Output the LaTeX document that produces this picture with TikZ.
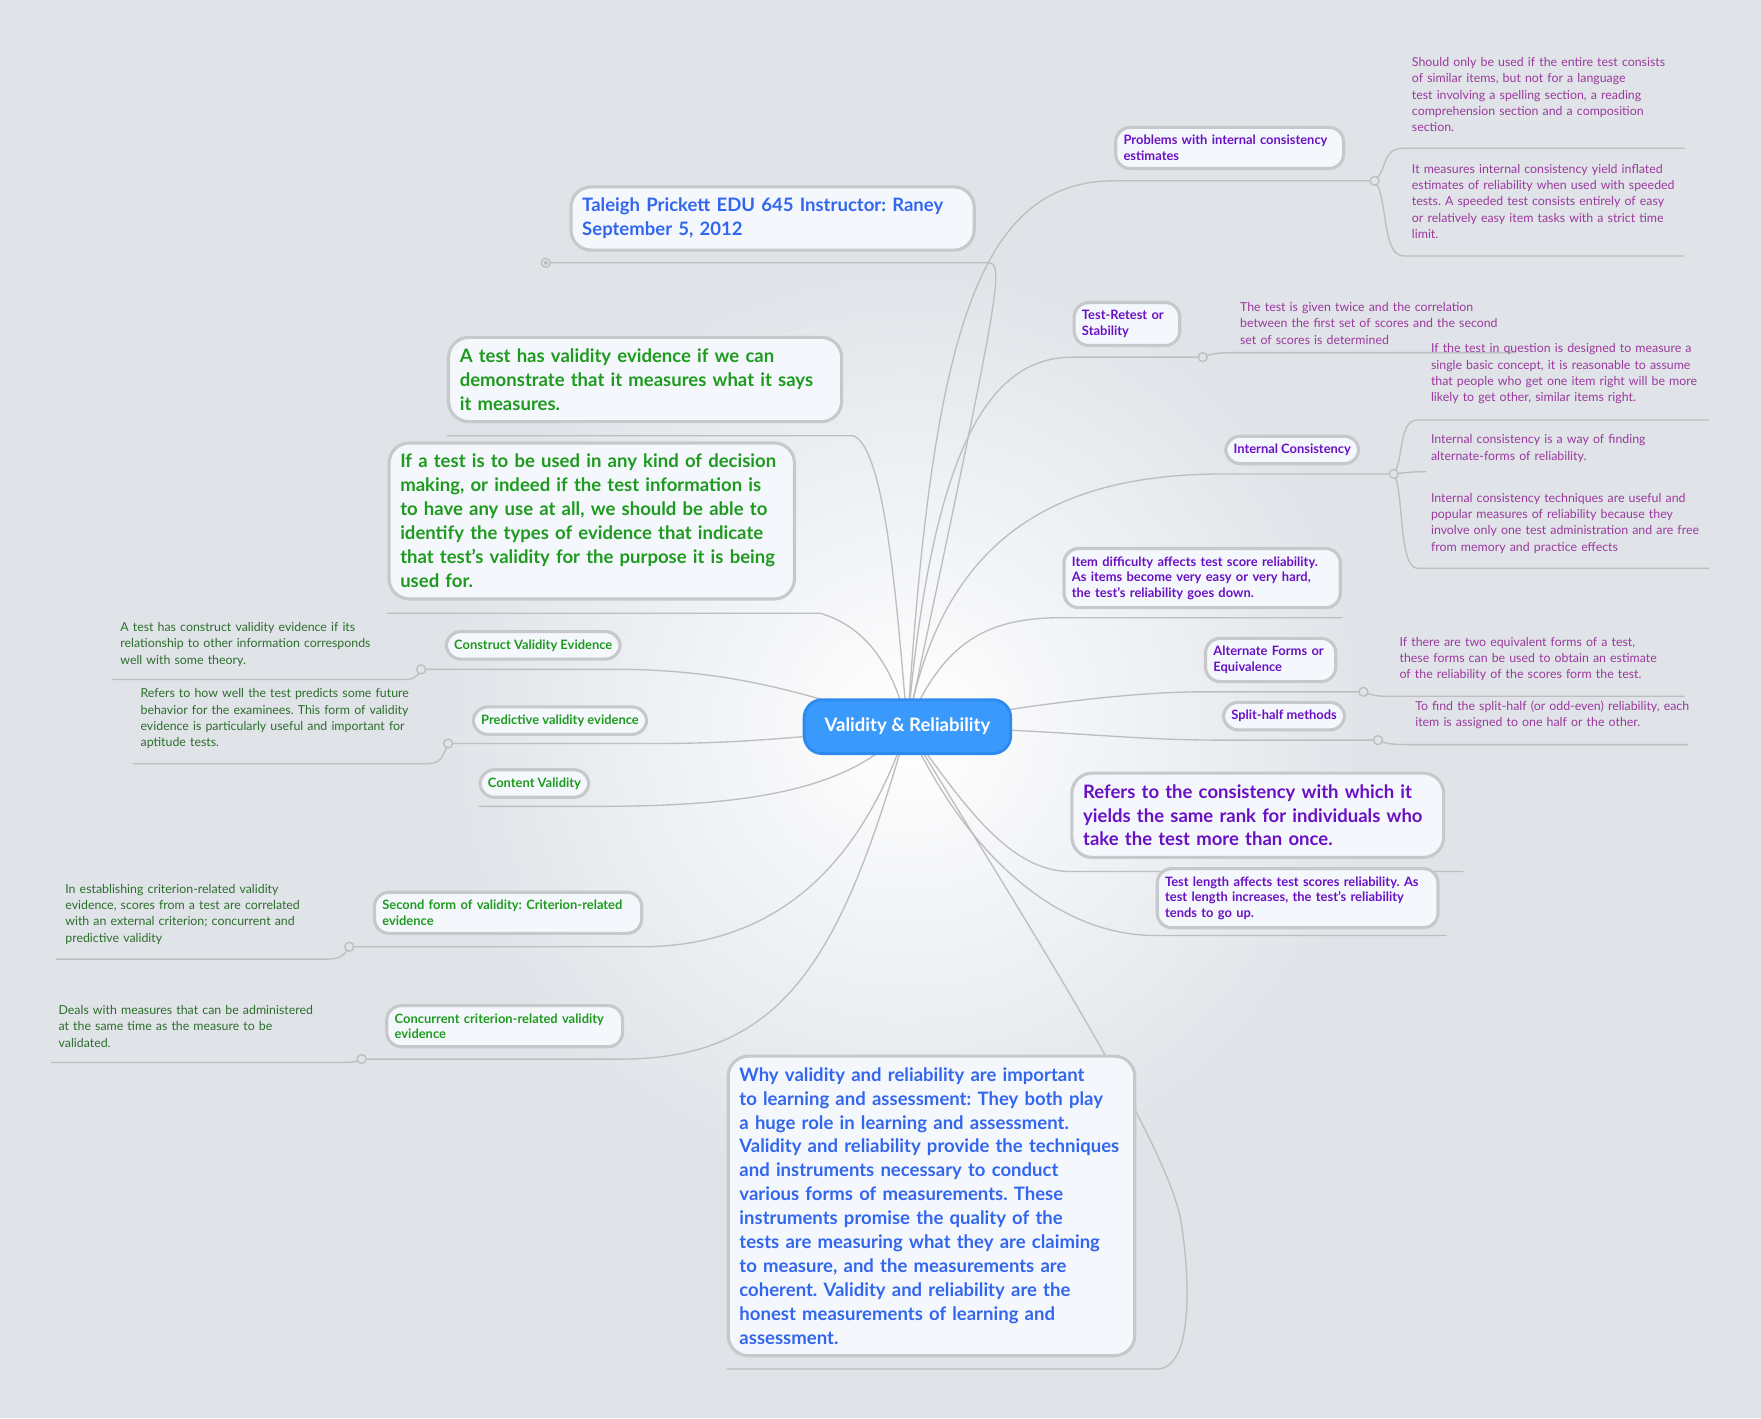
\documentclass[tikz,border=0pt]{standalone}
\usepackage{fontspec}
\setmainfont{Lato}
\hyphenpenalty=10000
\exhyphenpenalty=10000
\frenchspacing
\begin{document}
\begin{tikzpicture}[x=1pt,y=-1pt,
 box/.style={draw=bordc,line width=2.8pt,fill=boxf,rounded corners=13pt,inner sep=7pt,anchor=north west,align=left,font=\fontsize{11.5}{14}\selectfont\bfseries},
 big/.style={box,inner sep=10pt,rounded corners=18pt,font=\fontsize{16.5}{21.3}\selectfont\bfseries},
 leaf/.style={anchor=north west,inner sep=0pt,align=left,font=\fontsize{11}{14.5}\selectfont},
 conn/.style={draw=connc,line width=1.2pt},
 dot/.style={circle,draw=connc,line width=1.2pt,fill=bgc,inner sep=0pt,minimum size=8pt}]
\definecolor{bgc}{HTML}{E0E3E8}
\definecolor{boxf}{HTML}{F4F8FD}
\definecolor{bordc}{HTML}{C6C8CB}
\definecolor{connc}{HTML}{BDBEC0}
\definecolor{grn}{HTML}{1E9A1E}
\definecolor{dgrn}{HTML}{2C6E2C}
\definecolor{pur}{HTML}{6A10C4}
\definecolor{lpur}{HTML}{9A3A9E}
\definecolor{blu}{HTML}{3366EE}
\definecolor{cfill}{HTML}{3A9AFC}
\definecolor{cbord}{HTML}{2E8AF0}
\fill[bgc] (0,0) rectangle (1568,1263);
\useasboundingbox (0,0) rectangle (1568,1263);
\begin{scope}
\clip (0,0) rectangle (1568,1263);
\shade[inner color=white,outer color=bgc,draw=none] (808,647) circle (420);
\end{scope}
\coordinate (C) at (808,647);
% ---- connectors
\draw[conn] (486,234) -- (880,234) .. controls (895,234) and (890,260) .. (C);
\draw[conn] (398,388) -- (760,388) .. controls (790,400) and (800,560) .. (C);
\draw[conn] (345,546) -- (730,546) .. controls (780,560) and (800,610) .. (C);
\draw[conn] (375,596) -- (561,596) .. controls (640,598) and (700,610) .. (C);
\draw[conn] (399,662) -- (584,662) .. controls (650,662) and (700,658) .. (C);
\draw[conn] (426,718) -- (531,718) .. controls (680,718) and (760,700) .. (C);
\draw[conn] (311,843) -- (570,843) .. controls (700,843) and (770,760) .. (C);
\draw[conn] (322,943) -- (553,943) .. controls (700,943) and (750,850) .. (C);
\draw[conn] (647,1219) -- (1030,1219) .. controls (1070,1219) and (1055,1100) .. (1050,1080) .. controls (1030,1000) and (900,800) .. (C);
\draw[conn] (375,596) .. controls (370,605) and (368,605) .. (355,605) -- (100,605);
\draw[conn] (399,662) .. controls (392,680) and (390,680) .. (375,680) -- (118,680);
\draw[conn] (311,843) .. controls (305,854) and (300,854) .. (285,854) -- (50,854);
\draw[conn] (322,943) .. controls (318,946) and (310,946) .. (300,946) -- (45,946);
\draw[conn] (C) .. controls (830,300) and (870,161) .. (992,161) -- (1224,161);
\draw[conn] (C) .. controls (830,400) and (880,318) .. (955,318) -- (1071,318);
\draw[conn] (C) .. controls (840,470) and (950,422) .. (1090,422) -- (1241,422);
\draw[conn] (C) .. controls (840,570) and (880,550) .. (946,550) -- (1195,550);
\draw[conn] (C) .. controls (900,630) and (1000,616) .. (1072,616) -- (1214,616);
\draw[conn] (C) .. controls (950,650) and (1000,659) .. (1088,659) -- (1227,659);
\draw[conn] (C) .. controls (860,720) and (900,776) .. (953,776) -- (1303,776);
\draw[conn] (C) .. controls (860,760) and (940,833) .. (1029,833) -- (1288,833);
\draw[conn] (1224,161) .. controls (1236,150) and (1230,132) .. (1250,132) -- (1500,132);
\draw[conn] (1224,161) .. controls (1236,175) and (1230,228) .. (1250,228) -- (1500,228);
\draw[conn] (1071,318) .. controls (1080,314) and (1090,314) .. (1100,314) -- (1350,314);
\draw[conn] (1241,422) .. controls (1250,410) and (1245,374) .. (1262,374) -- (1522,374);
\draw[conn] (1241,422) .. controls (1250,421) and (1255,420) .. (1270,420);
\draw[conn] (1241,422) .. controls (1250,435) and (1245,506) .. (1262,506) -- (1522,506);
\draw[conn] (1214,616) .. controls (1222,620) and (1230,620) .. (1240,620) -- (1500,620);
\draw[conn] (1227,659) .. controls (1235,663) and (1245,663) .. (1255,663) -- (1503,663);
\foreach \p in {(486,234),(375,596),(399,662),(311,843),(322,943),(1224,161),(1071,318),(1241,422),(1214,616),(1227,659)}
  \node[dot] at \p {};
\fill[connc] (486,234) circle (1.8);
% ---- nodes
\node[draw=cbord,line width=2.5pt,rounded corners=16pt,minimum width=184pt,minimum height=48pt,fill=cfill,text=white,font=\fontsize{16.5}{20}\selectfont\bfseries] (cn) at (808,647) {Validity \& Reliability};
\node[big,text=blu,text width=339pt] (t) at (507,165) {Taleigh Prickett EDU 645 Instructor: Raney\\September 5, 2012};
\node[big,text=grn,text width=330pt] (a) at (398,299) {A test has validity evidence if we can demonstrate that it measures what it says it measures.};
\node[big,text=grn,text width=341pt] (b) at (345,393) {If a test is to be used in any kind of decision making, or indeed if the test information is to have any use at all, we should be able to identify the types of evidence that indicate that test’s validity for the purpose it is being used for.};
\node[box,text=grn] (cv) at (396,561) {Construct Validity Evidence};
\node[box,text=grn] (pv) at (420,628) {Predictive validity evidence};
\node[box,text=grn] (cnt) at (426,684) {Content Validity};
\node[box,text=grn,text width=224pt] (sf) at (332,793) {Second form of validity: Criterion-related evidence};
\node[box,text=grn,text width=196pt] (cc) at (343,894) {Concurrent criterion-related validity evidence};
\node[big,text=blu,text width=342pt] (why) at (647,939) {Why validity and reliability are important to learning and assessment: They both play a huge role in learning and assessment. Validity and reliability provide the techniques and instruments necessary to conduct various forms of measurements. These instruments promise the quality of the tests are measuring what they are claiming to measure, and the measurements are coherent. Validity and reliability are the honest measurements of learning and assessment.};
\node[leaf,text=dgrn,text width=240pt] at (107,554) {A test has construct validity evidence if its relationship to other information corresponds well with some theory.};
\node[leaf,text=dgrn,text width=245pt] at (125,613) {Refers to how well the test predicts some future behavior for the examinees. This form of validity evidence is particularly useful and important for aptitude tests.};
\node[leaf,text=dgrn,text width=225pt] at (58,787) {In establishing criterion-related validity evidence, scores from a test are correlated with an external criterion; concurrent and predictive validity};
\node[leaf,text=dgrn,text width=238pt] at (52,895) {Deals with measures that can be administered at the same time as the measure to be validated.};
\node[box,text=pur,text width=189pt] at (992,112) {Problems with internal consistency estimates};
\node[box,text=pur,text width=80pt] at (955,268) {Test-Retest or Stability};
\node[box,text=pur] at (1090,387) {Internal Consistency};
\node[box,text=pur,text width=232pt] at (946,487) {Item difficulty affects test score reliability. As items become very easy or very hard, the test’s reliability goes down.};
\node[box,text=pur,text width=102pt] at (1072,567) {Alternate Forms or Equivalence};
\node[box,text=pur] at (1088,624) {Split-half methods};
\node[big,text=pur,text width=311pt] at (953,687) {Refers to the consistency with which it yields the same rank for individuals who take the test more than once.};
\node[box,text=pur,text width=236pt] at (1029,772) {Test length affects test scores reliability. As test length increases, the test’s reliability tends to go up.};
\node[leaf,text=lpur,text width=240pt] at (1257,51) {Should only be used if the entire test consists of similar items, but not for a language test involving a spelling section, a reading comprehension section and a composition section.};
\node[leaf,text=lpur,text width=235pt] at (1257,146) {It measures internal consistency yield inflated estimates of reliability when used with speeded tests. A speeded test consists entirely of easy or relatively easy item tasks with a strict time limit.};
\node[leaf,text=lpur,text width=245pt] at (1104,269) {The test is given twice and the correlation between the first set of scores and the second set of scores is determined};
\node[leaf,text=lpur,text width=245pt] at (1274,306) {If the test in question is designed to measure a single basic concept, it is reasonable to assume that people who get one item right will be more likely to get other, similar items right.};
\node[leaf,text=lpur,text width=215pt] at (1274,387) {Internal consistency is a way of finding alternate-forms of reliability.};
\node[leaf,text=lpur,text width=245pt] at (1274,439) {Internal consistency techniques are useful and popular measures of reliability because they involve only one test administration and are free from memory and practice effects};
\node[leaf,text=lpur,text width=235pt] at (1246,567) {If there are two equivalent forms of a test, these forms can be used to obtain an estimate of the reliability of the scores form the test.};
\node[leaf,text=lpur,text width=245pt] at (1260,624) {To find the split-half (or odd-even) reliability, each item is assigned to one half or the other.};
\end{tikzpicture}
\end{document}
